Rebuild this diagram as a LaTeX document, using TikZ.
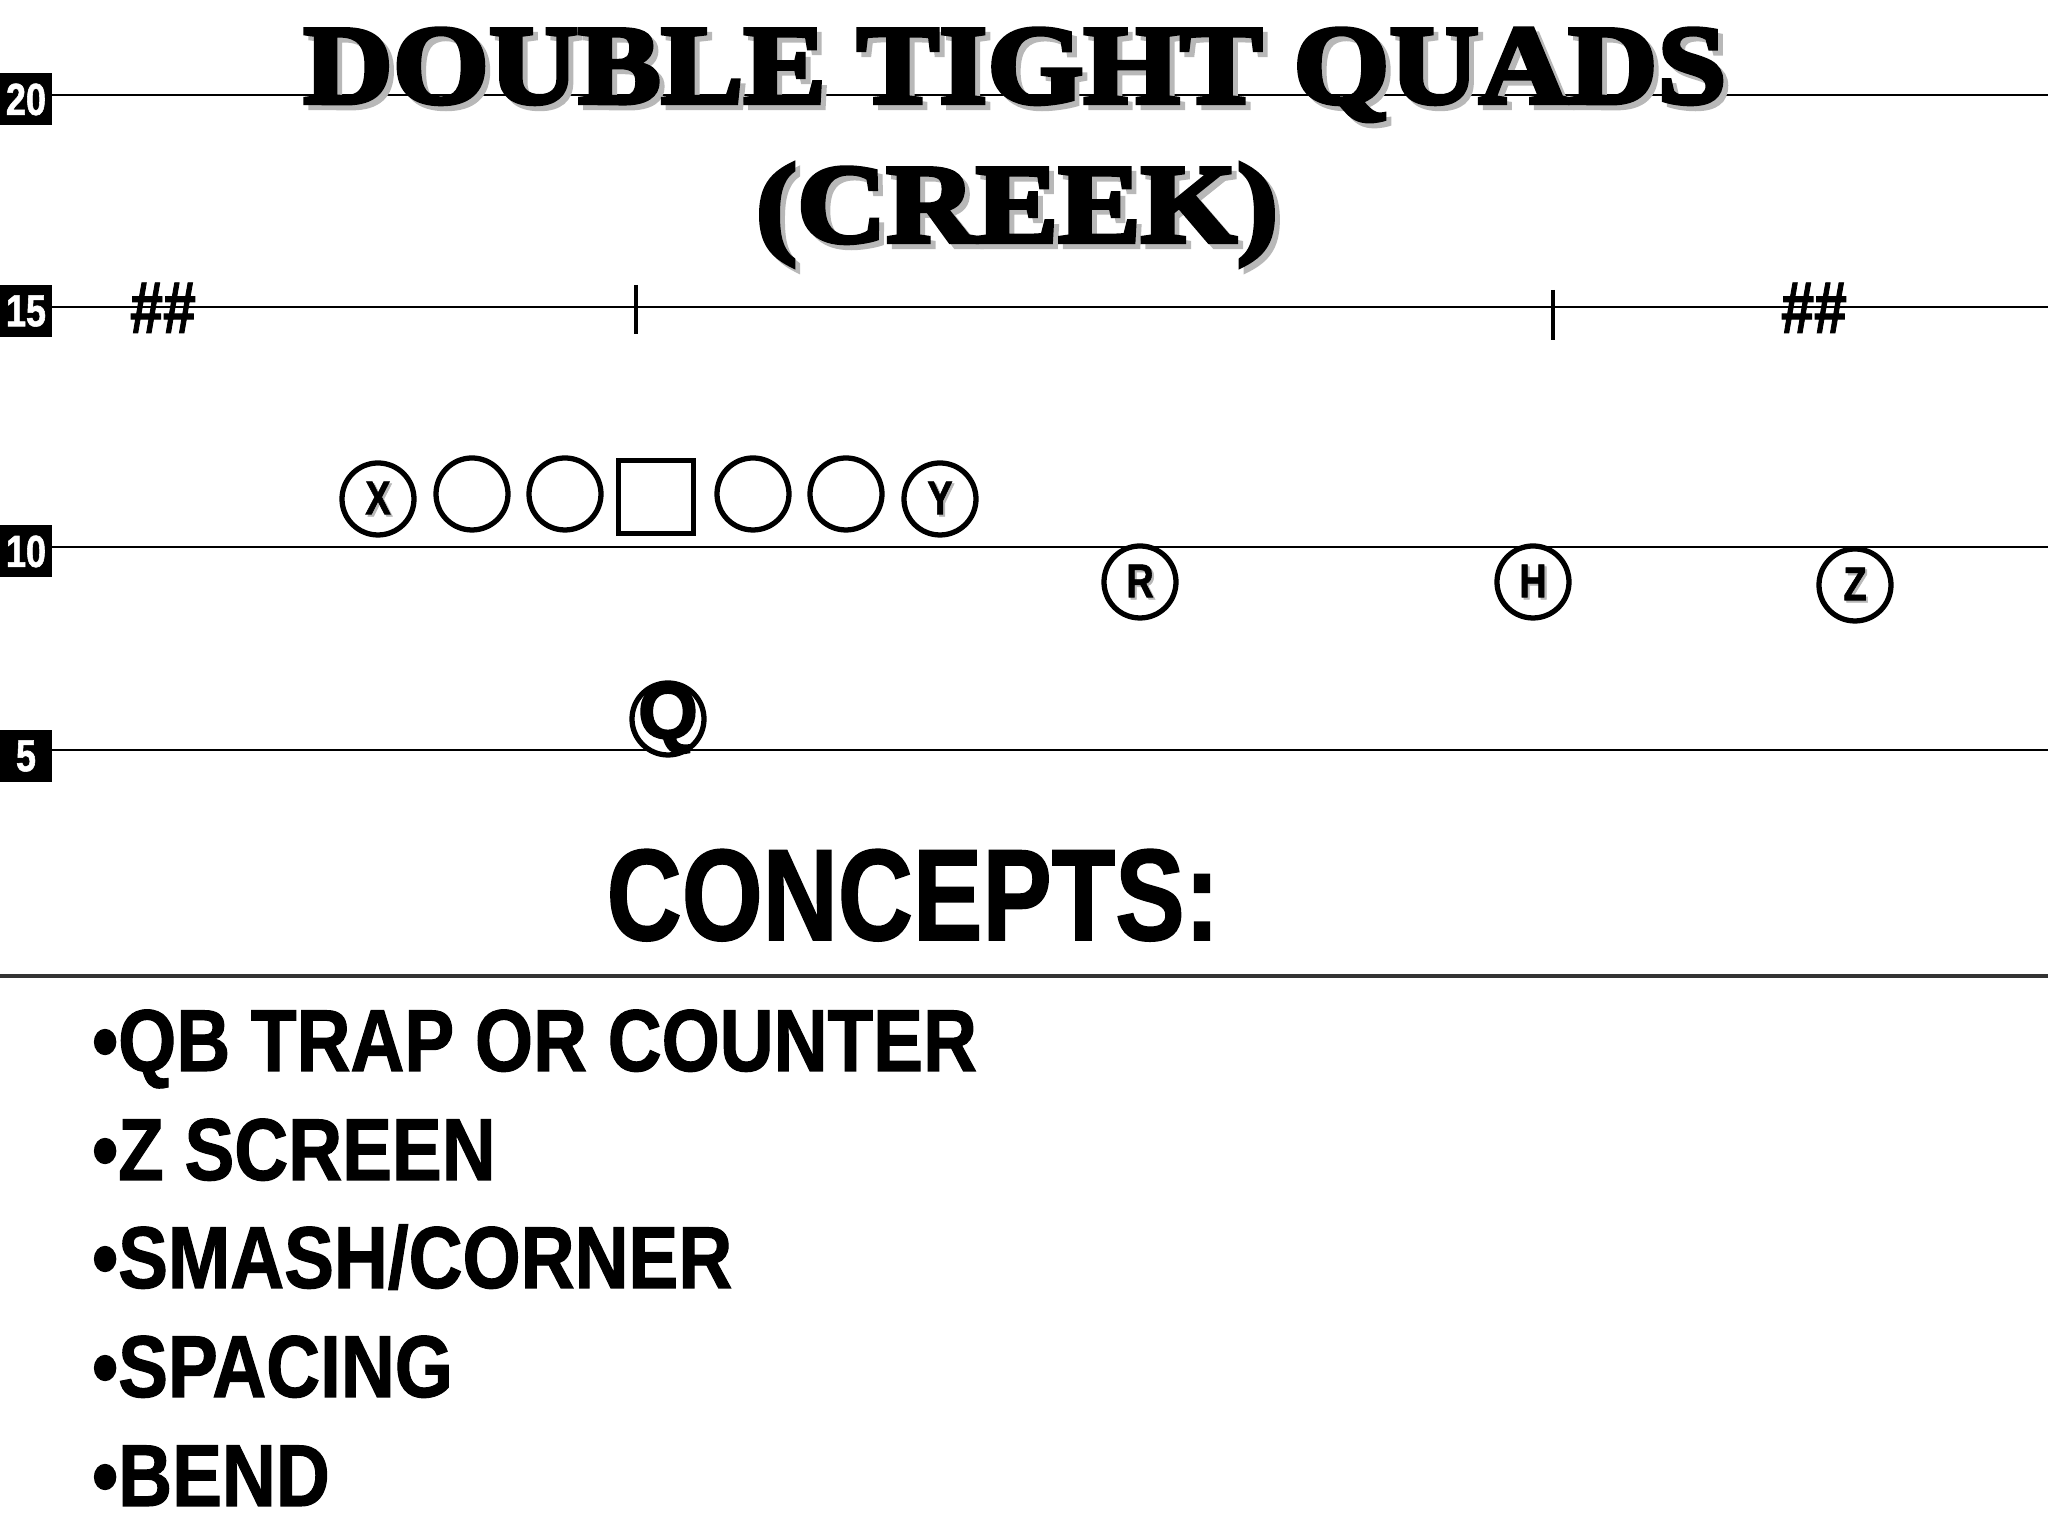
\documentclass[tikz,border=0pt]{standalone}
\usepackage{fontspec}
\newfontfamily\titlefont{Liberation Serif}[FakeStretch=1.1,BoldFeatures={FakeBold=4}]
\newfontfamily\narrowfont{Liberation Sans}[FakeStretch=0.8,BoldFeatures={FakeBold=1.2}]
\newfontfamily\listfont{Liberation Sans}[FakeStretch=0.85,BoldFeatures={FakeBold=1.2}]
\newfontfamily\boldsans{Liberation Sans}[BoldFeatures={FakeBold=2}]
% grey copy of the text, shifted right and down
\newcommand\shadowed[2]{\rlap{\kern#1\raisebox{-#1}{\color{black!28}#2}}#2}

\begin{document}
\begin{tikzpicture}[x=1cm,y=1cm,line width=0.6pt,
	yardbox/.style={fill=black,text=white,inner sep=0pt,minimum width=0.52cm,minimum height=0.52cm,
		font=\narrowfont\bfseries\fontsize{12.8}{13}\selectfont},
	player/.style={circle,draw,fill=white,line width=1.5pt,inner sep=0pt,minimum size=0.72cm,
		font=\narrowfont\bfseries\fontsize{13.5}{13.5}\selectfont},
	snapbox/.style={rectangle,draw,fill=white,line width=1.6pt,inner sep=0pt,minimum width=0.75cm,minimum height=0.73cm},
	hashmark/.style={anchor=base,inner sep=0pt,font=\narrowfont\bfseries\fontsize{21}{21}\selectfont},
	headline/.style={anchor=base,inner sep=0pt,font=\titlefont\bfseries\fontsize{32}{32}\selectfont},
	concept/.style={anchor=base west,inner sep=0pt,font=\listfont\bfseries\fontsize{25}{25}\selectfont}]
	\useasboundingbox (0,0) rectangle (20.48,15.36);
	% yard lines
	\draw (0,14.41)--(20.48,14.41);
	\draw (0,12.29)--(20.48,12.29);
	\draw (0,9.89)--(20.48,9.89);
	\draw (0,7.86)--(20.48,7.86);
	\node[yardbox] (yd20) at (0.26,14.365) {20};
	\node[yardbox] (yd15) at (0.26,12.25) {15};
	\node[yardbox] (yd10) at (0.26,9.845) {10};
	\node[yardbox] (yd5) at (0.26,7.80) {5};
	% hashes and ticks on the 15
	\node[hashmark] (hashL) at (1.63,12.03) {\#\#};
	\node[hashmark] (hashR) at (18.14,12.03) {\#\#};
	\draw[line width=1pt] (6.36,12.51)--(6.36,12.02);
	\draw[line width=1pt] (15.53,12.46)--(15.53,11.96);
	% title
	\node[headline] (title) at (10.15,14.33) {\shadowed{1.4pt}{DOUBLE TIGHT QUADS}};
	\node[headline] (subtitle) at (10.17,12.94) {\shadowed{1.4pt}{(CREEK)}};
	% line
	\node[player] (X) at (3.78,10.37) {\shadowed{0.6pt}{X}};
	\node[player] (LG1) at (4.72,10.42) {};
	\node[player] (LG2) at (5.65,10.42) {};
	\node[snapbox] (C) at (6.56,10.39) {};
	\node[player] (RG1) at (7.53,10.42) {};
	\node[player] (RG2) at (8.46,10.42) {};
	\node[player] (Y) at (9.40,10.37) {\shadowed{0.6pt}{Y}};
	% backs
	\node[player] (R) at (11.40,9.54) {\shadowed{0.6pt}{R}};
	\node[player] (H) at (15.33,9.54) {\shadowed{0.6pt}{H}};
	\node[player] (Z) at (18.55,9.51) {\shadowed{0.6pt}{Z}};
	\node[player,inner sep=-3pt,font=\boldsans\bfseries\fontsize{22}{22}\selectfont] (Q) at (6.68,8.17) {Q};
	% concepts
	\draw[line width=0.9pt,black!80] (0,5.60)--(20.48,5.60);
	\node[anchor=base,inner sep=0pt,font=\narrowfont\bfseries\fontsize{37}{37}\selectfont] (concepts) at (9.13,5.96) {CONCEPTS:};
	\node[concept] (c1) at (0.91,4.65) {•QB TRAP OR COUNTER};
	\node[concept] (c2) at (0.91,3.56) {•Z SCREEN};
	\node[concept] (c3) at (0.91,2.48) {•SMASH/CORNER};
	\node[concept] (c4) at (0.91,1.39) {•SPACING};
	\node[concept] (c5) at (0.91,0.30) {•BEND};
\end{tikzpicture}
\end{document}
